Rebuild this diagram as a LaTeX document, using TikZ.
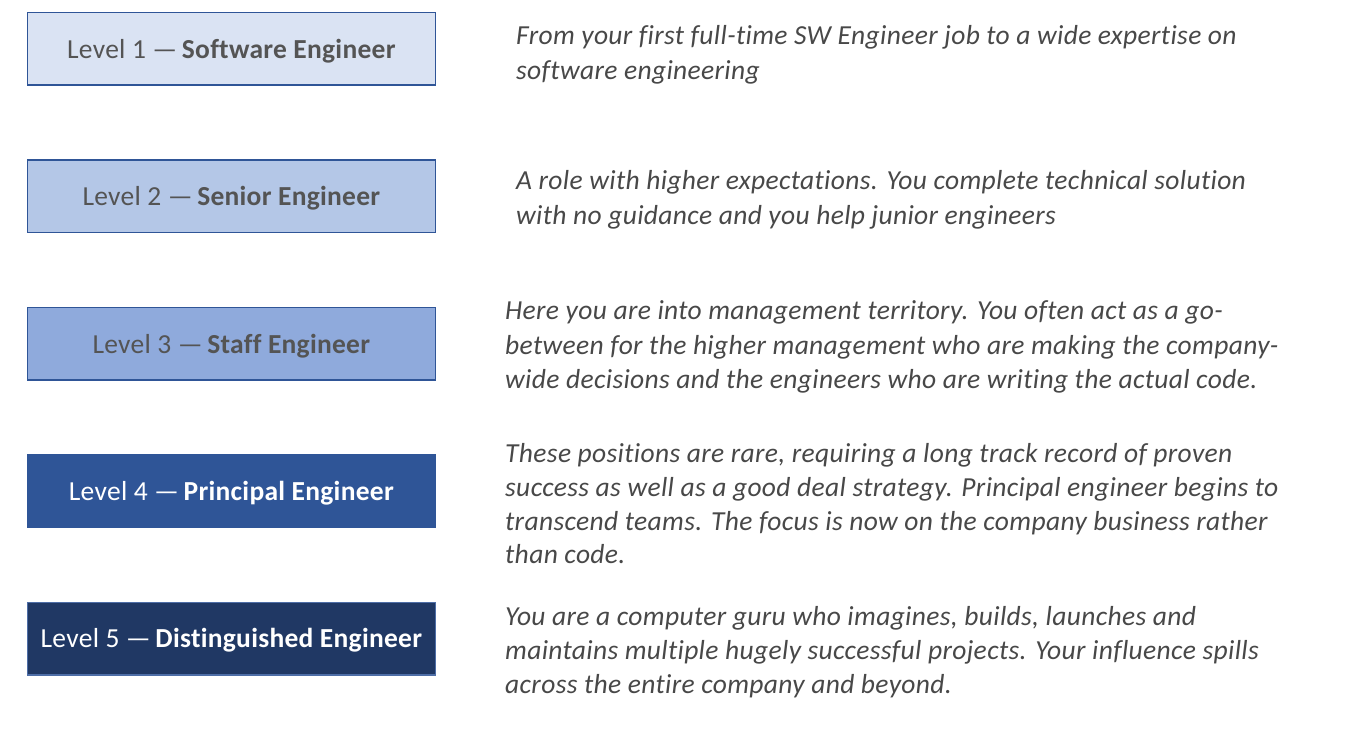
\documentclass[tikz,border=0pt]{standalone}
\usepackage{fontspec}
\setmainfont{Carlito}[Ligatures={NoCommon}, LetterSpace=1.0]
\newfontfamily\descfont{Carlito}[Ligatures={NoCommon}, LetterSpace=1.3]
\definecolor{bd}{HTML}{2F5597}
\definecolor{f1}{HTML}{DAE3F3}
\definecolor{f2}{HTML}{B4C7E7}
\definecolor{f3}{HTML}{8FAADC}
\definecolor{f4}{HTML}{2F5597}
\definecolor{f5}{HTML}{203864}
\definecolor{lbl}{HTML}{545454}
\definecolor{dsc}{HTML}{484848}
\tikzset{
  lvbox/.style={draw=bd, line width=1.5pt, minimum width=408pt, minimum height=72.5pt,
    inner sep=0pt, text height=18.5pt, text depth=0pt, font=\fontsize{27.5}{30}\selectfont},
  dline/.style={anchor=base west, inner sep=0pt, text=dsc, font=\descfont\fontsize{27.5}{34}\selectfont\itshape}
}
\begin{document}
\begin{tikzpicture}[x=1pt,y=-1pt]
\useasboundingbox[fill=white] (0,0) rectangle (1358,744);
\node[lvbox, fill=f1, text=lbl] (b1) at (231.5,48.75) {Level 1 —\,\textbf{Software Engineer}};
\node[lvbox, fill=f2, text=lbl] (b2) at (231.5,196.25) {Level 2 —\,\textbf{Senior Engineer}};
\node[lvbox, fill=f3, text=lbl] (b3) at (231.5,343.75) {Level 3 —\,\textbf{Staff Engineer}};
\node[lvbox, fill=f4, text=white] (b4) at (231.5,491) {Level 4 —\,\textbf{Principal Engineer}};
\node[lvbox, fill=f5, draw=bd!85!white, text=white] (b5) at (231.5,638.5) {Level 5 —\,\textbf{Distinguished Engineer}};

\node[dline] (d1a) at (516,44) {From your first full-time SW Engineer job to a wide expertise on};
\node[dline] (d1b) at (516,79) {software engineering};

\node[dline] (d2a) at (516,189) {A role with higher expectations. You complete technical solution};
\node[dline] (d2b) at (516,224) {with no guidance and you help junior engineers};

\node[dline] (d3a) at (505,319) {Here you are into management territory. You often act as a go-};
\node[dline] (d3b) at (505,354) {between for the higher management who are making the company-};
\node[dline] (d3c) at (505,388) {wide decisions and the engineers who are writing the actual code.};

\node[dline] (d4a) at (505,462) {These positions are rare, requiring a long track record of proven};
\node[dline] (d4b) at (505,496) {success as well as a good deal strategy. Principal engineer begins to};
\node[dline] (d4c) at (505,530) {transcend teams. The focus is now on the company business rather};
\node[dline] (d4d) at (505,563) {than code.};

\node[dline] (d5a) at (505,625) {You are a computer guru who imagines, builds, launches and};
\node[dline] (d5b) at (505,659) {maintains multiple hugely successful projects. Your influence spills};
\node[dline] (d5c) at (505,693) {across the entire company and beyond.};
\end{tikzpicture}
\end{document}
